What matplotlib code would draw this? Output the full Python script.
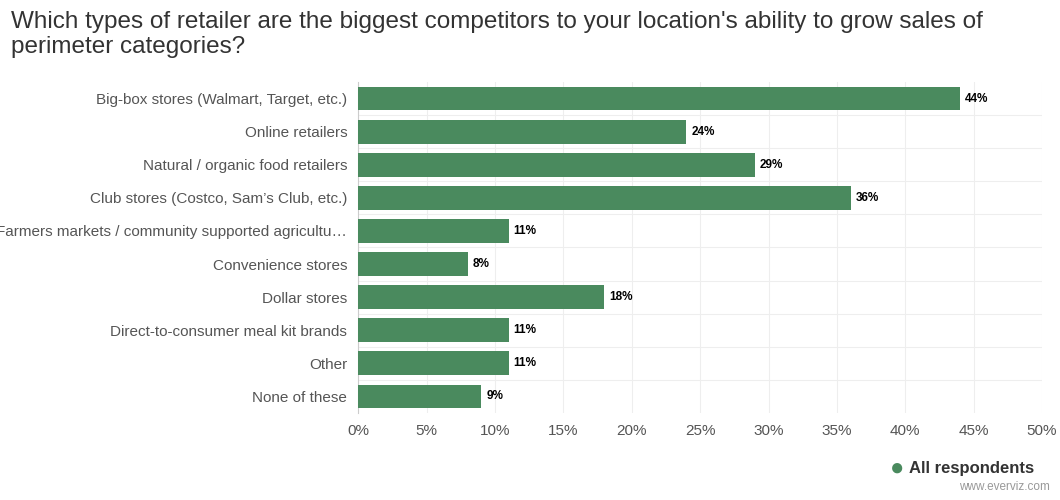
import matplotlib
matplotlib.use("Agg")
import matplotlib.pyplot as plt
plt.rcParams['font.family'] = ['Liberation Sans', 'DejaVu Sans']

categories = ["Big-box stores (Walmart, Target, etc.)", "Online retailers",
              "Natural / organic food retailers", "Club stores (Costco, Sam’s Club, etc.)",
              "Farmers markets / community supported agricultu…", "Convenience stores",
              "Dollar stores", "Direct-to-consumer meal kit brands", "Other", "None of these"]
values = [44, 24, 29, 36, 11, 8, 18, 11, 11, 9]
xticks = [0, 5, 10, 15, 20, 25, 30, 35, 40, 45, 50]
color = "#4a8a5e"

fig = plt.figure(figsize=(10.6, 5), dpi=100)
ax = fig.add_axes([0.338, 0.174, 0.645, 0.662])
y = list(range(len(categories)))
ax.barh(y, values, height=0.72, color=color, zorder=3)
for yi, v in zip(y, values):
    ax.text(v + 0.35, yi, f"{v}%", va="center", ha="left", fontsize=8.5, fontweight="bold", color="black")
ax.set_yticks(y)
ax.set_yticklabels(categories, fontsize=11, color="#555555")
ax.set_ylim(len(categories) - 0.5, -0.5)
ax.set_xlim(0, 50)
ax.set_xticks(xticks)
ax.set_xticklabels([f"{t}%" for t in xticks], fontsize=11, color="#555555")
ax.grid(True, color="#eeeeee", linewidth=0.8, zorder=0)
ax.set_yticks([i + 0.5 for i in y[:-1]], minor=True)
ax.grid(True, which="minor", axis="y", color="#eeeeee", linewidth=0.8, zorder=0)
ax.grid(False, which="major", axis="y")
ax.tick_params(axis="both", which="both", length=0, pad=8)
for s in ax.spines.values():
    s.set_visible(False)
ax.spines["left"].set_visible(True)
ax.spines["left"].set_color("#cccccc")

fig.text(0.01, 0.978, "Which types of retailer are the biggest competitors to your location's ability to grow sales of\nperimeter categories?",
         fontsize=17.5, color="#333333", va="top", ha="left", linespacing=1.15)
fig.text(0.846, 0.063, "●", fontsize=17, color=color, va="center", ha="center")
fig.text(0.858, 0.063, "All respondents", fontsize=12, fontweight="bold", color="#333333", va="center", ha="left")
fig.text(0.99, 0.015, "www.everviz.com", fontsize=8.5, color="#999999", ha="right", va="bottom")
fig.savefig("out.png", dpi=100)
